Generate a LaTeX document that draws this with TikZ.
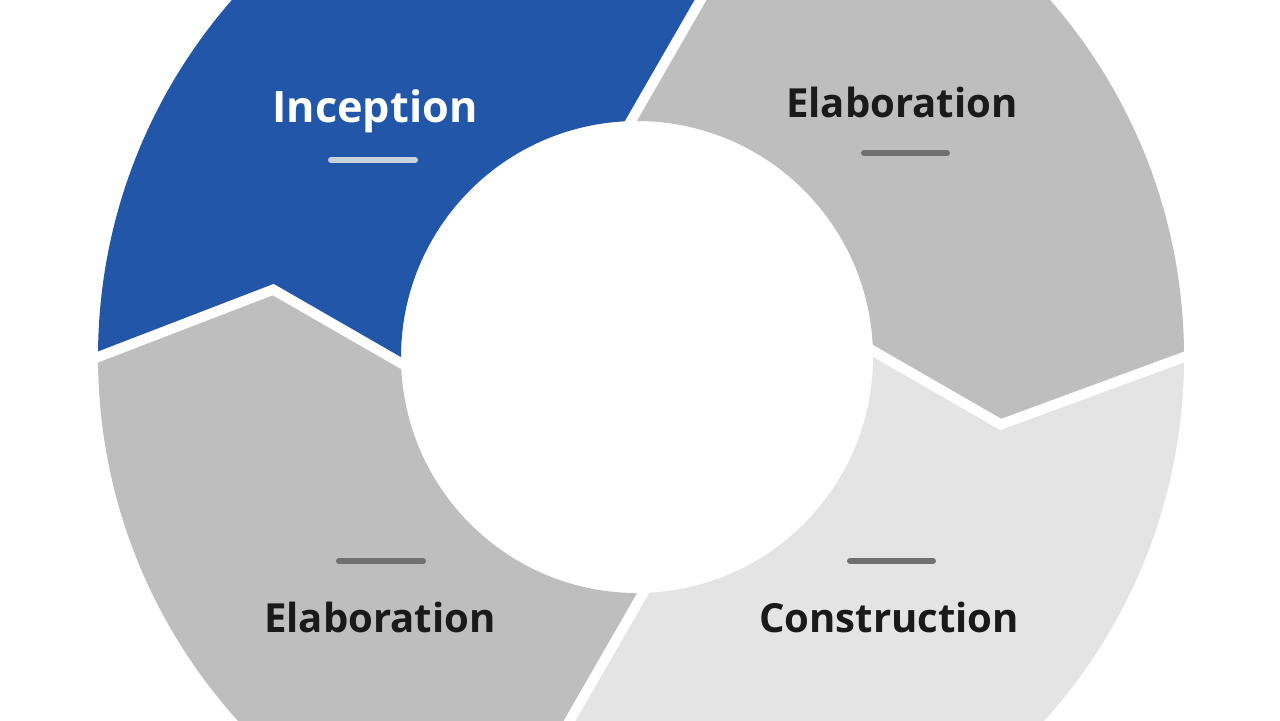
\documentclass[tikz,border=0pt]{standalone}
\usepackage{fontspec}
\setmainfont{Open Sans}
\usetikzlibrary{calc}
\definecolor{phaseblue}{HTML}{2256A8}
\definecolor{phasegray}{HTML}{BEBEBE}
\definecolor{phaselight}{HTML}{E4E4E4}
\definecolor{ink}{HTML}{1A1A1A}
\definecolor{barlight}{HTML}{C9D1DE}
\definecolor{bardark}{HTML}{707070}

% one ring segment: colour, start angle, end angle (notch at start, point at end)
\newcommand{\phaseseg}[3]{%
  \fill[#1] ($(co)+(#2:543)$) arc[start angle=#2, end angle=#3, radius=543]
    -- ($(c)+(#3+10.5:370)$) -- ($(c)+(#3-1.5:236)$)
    arc[start angle=#3-1.5, end angle=#2-1.5, radius=236]
    -- ($(c)+(#2+10.5:370)$) -- cycle;}

\begin{document}
\begin{tikzpicture}[
  x=0.01cm, y=-0.01cm,
  sep/.style={white, line width=2.9pt, line join=miter},
  lbl/.style={anchor=base, inner sep=0pt},
  big/.style={lbl, font=\fontsize{12.3}{15}\selectfont\bfseries},
  small/.style={lbl, font=\fontsize{11.4}{14}\selectfont\bfseries, text=ink},
  bar/.style={line width=1.7pt, line cap=round}
]
\useasboundingbox (0,0) rectangle (1280,720);
\fill[white] (0,0) rectangle (1280,720);
\clip (0,0) rectangle (1280,720);

\coordinate (c) at (637,357);  % centre of the hole
\coordinate (co) at (641,357); % centre of the outer rim

% --- segments ---
\phaseseg{phaseblue}{180}{270}
\phaseseg{phasegray}{270}{360}
\phaseseg{phaselight}{0}{90}
\phaseseg{phasegray}{90}{180}

% --- white gaps between segments ---
\foreach \a in {0,90,180,270}{
  \coordinate (o) at ($(co)+(\a:543)$);
  \coordinate (p) at ($(c)+(\a+10.5:370)$);
  \coordinate (i) at ($(c)+(\a-1.5:236)$);
  \draw[sep] ($(p)!1.2!(o)$) -- (p) -- ($(p)!1.3!(i)$);
}

% --- labels ---
\node[big, white] (inc) at (375,122) {Inception};
\node[small] (elabT) at (902,117) {Elaboration};
\node[small] (elabB) at (380,632) {Elaboration};
\node[small] (cons) at (889,632) {Construction};

% --- short bars ---
\draw[bar, barlight] (331,160) -- (415,160);
\draw[bar, bardark] (864,153) -- (947,153);
\draw[bar, bardark] (339,561) -- (423,561);
\draw[bar, bardark] (850,561) -- (933,561);

\end{tikzpicture}
\end{document}
